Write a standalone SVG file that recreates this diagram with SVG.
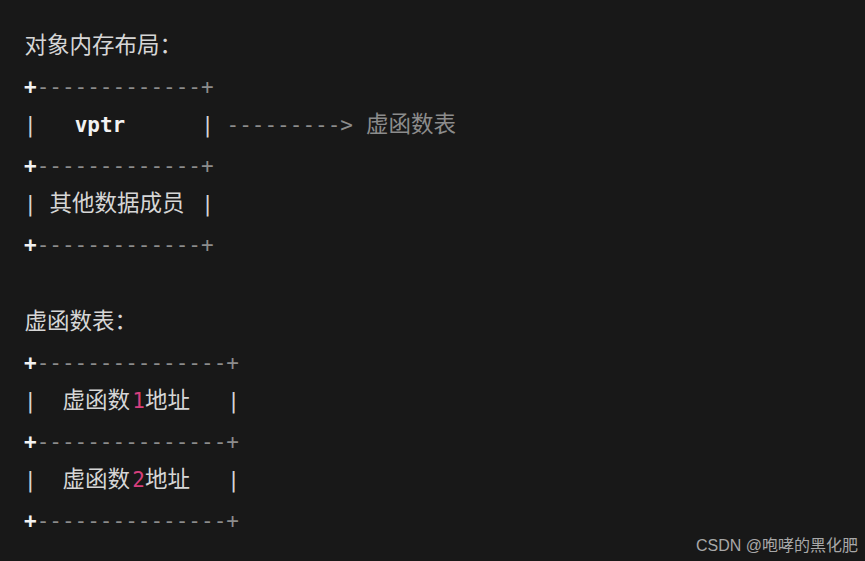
<svg xmlns="http://www.w3.org/2000/svg" width="865" height="561" viewBox="0 0 865 561">
<style>
.m{font-family:"DejaVu Sans Mono","Liberation Mono",monospace;font-size:21px;fill:#d6d6d6}
.c{font-family:"Noto Sans CJK SC","Noto Sans",sans-serif;font-size:22.5px;fill:#d6d6d6}
.w{fill:#f2f2f2;font-weight:bold}
.g{fill:#8c8c8c}
.p{fill:#d63f7c}
.wm{font-family:"Liberation Sans","Noto Sans CJK SC",sans-serif;font-size:16px;fill:#a8a8a8}
</style>
<rect width="865" height="561" fill="#181818"/>
<g id="object-title"><text class="c" x="24.5" y="52.7">对象内存布局：</text></g>
<g id="object-layout">
<text class="m w" x="24" y="93.7">+</text><text class="m g" x="36.66" y="93.7">-------------+</text>
<text class="m" x="24" y="131.7">|</text><text class="m w" x="74.64" y="131.7">vptr</text><text class="m" x="201.24" y="131.7">|</text>
<text class="m w" x="24" y="172.7">+</text><text class="m g" x="36.66" y="172.7">-------------+</text>
<text class="m" x="24" y="210.7">|</text><text class="c" x="49.5" y="210.7">其他数据成员</text><text class="m" x="201.24" y="210.7">|</text>
<text class="m w" x="24" y="251.7">+</text><text class="m g" x="36.66" y="251.7">-------------+</text>
</g>
<g id="connectors">
<text class="m g" x="226.56" y="131.7">---------&gt;</text>
</g>
<g id="vtable-ref"><text class="c g" x="366" y="131.7">虚函数表</text></g>
<g id="vtable-title"><text class="c" x="24.5" y="329.2">虚函数表：</text></g>
<g id="vtable">
<text class="m w" x="24" y="370.2">+</text><text class="m g" x="36.66" y="370.2">---------------+</text>
<text class="m" x="24" y="408.2">|</text><text class="c" x="62.5" y="408.2">虚函数</text><text class="m p" x="132.2" y="408.2">1</text><text class="c" x="144.9" y="408.2">地址</text><text class="m" x="227.2" y="408.2">|</text>
<text class="m w" x="24" y="449.2">+</text><text class="m g" x="36.66" y="449.2">---------------+</text>
<text class="m" x="24" y="487.2">|</text><text class="c" x="62.5" y="487.2">虚函数</text><text class="m p" x="132.2" y="487.2">2</text><text class="c" x="144.9" y="487.2">地址</text><text class="m" x="227.2" y="487.2">|</text>
<text class="m w" x="24" y="528.2">+</text><text class="m g" x="36.66" y="528.2">---------------+</text>
</g>
<g id="watermark"><text class="wm" x="696" y="550.7">CSDN @咆哮的黑化肥</text></g>
</svg>
